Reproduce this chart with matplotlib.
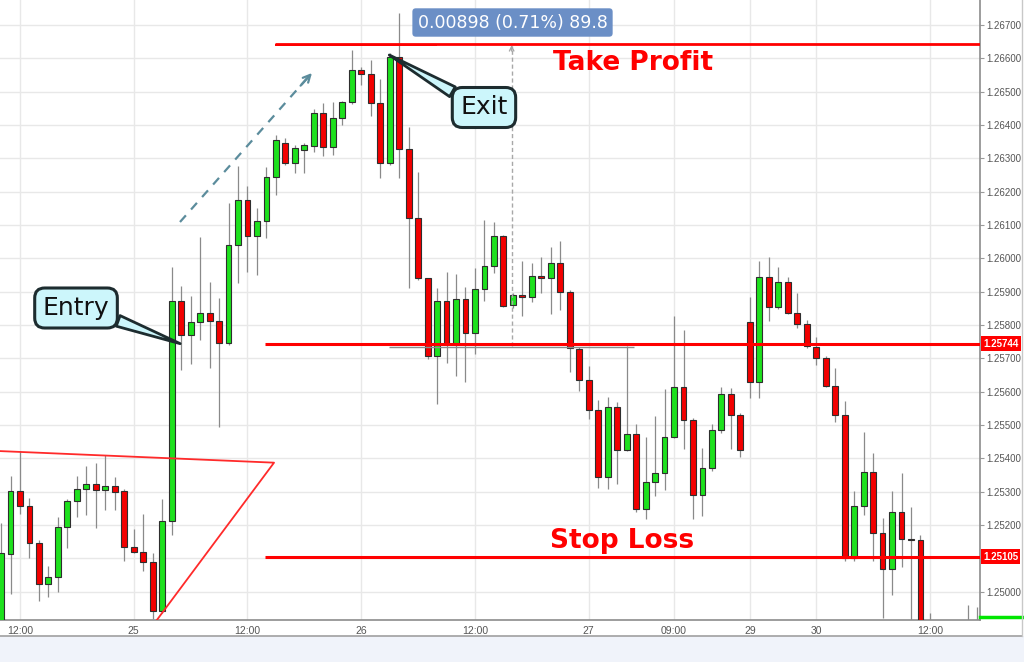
import numpy as np
import matplotlib
matplotlib.use('Agg')
import matplotlib.pyplot as plt
from matplotlib.transforms import blended_transform_factory
from matplotlib.patches import Rectangle
from matplotlib.lines import Line2D

# hourly bars, bar 0 = first "12:00" label
bars = np.arange(-2, 102)

opens = [1.24879, 1.25113, 1.25302, 1.25257, 1.25146, 1.25023, 1.25044, 1.25194, 1.25272, 1.25308,
         1.25323, 1.25305, 1.25317, 1.25302, 1.25134, 1.25119, 1.25089, 1.24942, 1.25212, 1.25872,
         1.25770, 1.25809, 1.25836, 1.25812, 1.25746, 1.26040, 1.26175, 1.26067, 1.26112, 1.26244,
         1.26346, 1.26286, 1.26325, 1.26337, 1.26436, 1.26334, 1.26421, 1.26469, 1.26565, 1.26553,
         1.26466, 1.26286, 1.26604, 1.26328, 1.26121, 1.25941, 1.25707, 1.25872, 1.25743, 1.25878,
         1.25776, 1.25908, 1.25977, 1.26067, 1.25860, 1.25890, 1.25884, 1.25947, 1.25941, 1.25986,
         1.25899, 1.25728, 1.25635, 1.25545, 1.25344, 1.25554, 1.25425, 1.25473, 1.25248, 1.25329,
         1.25356, 1.25464, 1.25614, 1.25515, 1.25290, 1.25371, 1.25485, 1.25593, 1.25530, 1.25809,
         1.25629, 1.25944, 1.25854, 1.25929, 1.25836, 1.25803, 1.25734, 1.25701, 1.25617, 1.25530,
         1.25101, 1.25257, 1.25359, 1.25176, 1.25068, 1.25239, 1.25158, 1.25155, 1.24830, 1.24860,
         1.24820, 1.24800, 1.24850, 1.24880]
highs = [1.25206, 1.25347, 1.25422, 1.25281, 1.25155, 1.25077, 1.25224, 1.25278, 1.25347, 1.25377,
         1.25386, 1.25410, 1.25344, 1.25308, 1.25188, 1.25233, 1.25116, 1.25278, 1.25974, 1.25917,
         1.25887, 1.26064, 1.25929, 1.25881, 1.26166, 1.26277, 1.26217, 1.26151, 1.26274, 1.26370,
         1.26361, 1.26340, 1.26346, 1.26448, 1.26466, 1.26469, 1.26472, 1.26625, 1.26574, 1.26595,
         1.26538, 1.26616, 1.26736, 1.26394, 1.26259, 1.25941, 1.25911, 1.25959, 1.25953, 1.25914,
         1.25971, 1.26115, 1.26109, 1.26070, 1.25896, 1.25992, 1.25986, 1.26004, 1.26034, 1.26052,
         1.25905, 1.25734, 1.25677, 1.25575, 1.25584, 1.25569, 1.25737, 1.25503, 1.25464, 1.25527,
         1.25608, 1.25827, 1.25785, 1.25521, 1.25431, 1.25503, 1.25614, 1.25611, 1.25536, 1.25884,
         1.25992, 1.26004, 1.25974, 1.25944, 1.25896, 1.25815, 1.25764, 1.25707, 1.25671, 1.25572,
         1.25302, 1.25479, 1.25416, 1.25221, 1.25302, 1.25356, 1.25254, 1.25170, 1.24936, 1.24900,
         1.24880, 1.24890, 1.24960, 1.24954]
lows = [1.24855, 1.24993, 1.25233, 1.25101, 1.24972, 1.24984, 1.24999, 1.25131, 1.25224, 1.25230,
        1.25191, 1.25245, 1.25245, 1.25092, 1.25116, 1.25062, 1.24918, 1.24936, 1.25170, 1.25665,
        1.25683, 1.25755, 1.25671, 1.25494, 1.25740, 1.25926, 1.25959, 1.25950, 1.26061, 1.26190,
        1.26280, 1.26256, 1.26256, 1.26319, 1.26307, 1.26310, 1.26400, 1.26463, 1.26520, 1.26427,
        1.26241, 1.26280, 1.26241, 1.25911, 1.25935, 1.25698, 1.25563, 1.25686, 1.25647, 1.25629,
        1.25713, 1.25872, 1.25956, 1.25854, 1.25851, 1.25827, 1.25869, 1.25896, 1.25833, 1.25845,
        1.25659, 1.25602, 1.25518, 1.25311, 1.25308, 1.25323, 1.25422, 1.25239, 1.25218, 1.25287,
        1.25305, 1.25461, 1.25428, 1.25218, 1.25227, 1.25362, 1.25476, 1.25428, 1.25404, 1.25581,
        1.25581, 1.25812, 1.25848, 1.25833, 1.25791, 1.25731, 1.25680, 1.25614, 1.25509, 1.25092,
        1.25092, 1.25230, 1.25092, 1.24921, 1.24990, 1.25074, 1.24900, 1.24800, 1.24790, 1.24780,
        1.24760, 1.24770, 1.24800, 1.24840]
closes = [1.25116, 1.25302, 1.25257, 1.25146, 1.25023, 1.25044, 1.25194, 1.25272, 1.25308, 1.25323,
          1.25305, 1.25317, 1.25299, 1.25134, 1.25119, 1.25089, 1.24942, 1.25212, 1.25872, 1.25770,
          1.25809, 1.25836, 1.25812, 1.25746, 1.26040, 1.26175, 1.26067, 1.26112, 1.26244, 1.26355,
          1.26286, 1.26331, 1.26340, 1.26436, 1.26334, 1.26421, 1.26469, 1.26565, 1.26553, 1.26466,
          1.26286, 1.26604, 1.26328, 1.26121, 1.25941, 1.25707, 1.25872, 1.25743, 1.25878, 1.25776,
          1.25908, 1.25977, 1.26067, 1.25857, 1.25890, 1.25884, 1.25947, 1.25941, 1.25986, 1.25899,
          1.25731, 1.25635, 1.25545, 1.25344, 1.25554, 1.25425, 1.25473, 1.25248, 1.25329, 1.25356,
          1.25464, 1.25614, 1.25515, 1.25290, 1.25371, 1.25485, 1.25593, 1.25530, 1.25425, 1.25629,
          1.25944, 1.25854, 1.25929, 1.25836, 1.25803, 1.25737, 1.25701, 1.25617, 1.25530, 1.25101,
          1.25257, 1.25359, 1.25176, 1.25068, 1.25239, 1.25158, 1.25155, 1.24830, 1.24860, 1.24820,
          1.24800, 1.24850, 1.24880, 1.24905]

time_ticks = [0, 12, 24, 36, 48, 60, 69, 77, 84, 96]
time_labels = ['12:00', '25', '12:00', '26', '12:00', '27', '09:00', '29', '30', '12:00']
price_ticks = np.round(np.arange(1.250, 1.2675, 0.001), 3)

entry_price = 1.25744
tp_price = 1.26642
sl_price = 1.25105
last_price = 1.24924
measure_text = '0.00898 (0.71%) 89.8'

# triangle drawn on the left (bar, price)
tri_x = [-4, 26.8, 12.87]
tri_y = [1.25424, 1.25387, 1.24855]

W, H = 1024, 662
fig = plt.figure(figsize=(W / 100, H / 100), dpi=100)
fig.patch.set_facecolor('white')
ax = fig.add_axes([0, (H - 620) / H, 980 / W, 620 / H])

# candles
o = np.array(opens)
c = np.array(closes)
colors = np.where(c >= o, '#1ee11e', '#f20000')
ax.vlines(bars, lows, highs, color='#8a8a8a', lw=0.9, zorder=2)
ax.bar(bars, np.maximum(np.abs(c - o), 0.000025), bottom=np.minimum(o, c), width=0.62,
       color=colors, edgecolor='#2e2e2e', linewidth=0.8, zorder=3)

# levels
ax.hlines(entry_price, 25.85, 110, color='#ff0000', lw=2.2, zorder=6)
ax.hlines(sl_price, 25.85, 110, color='#ff0000', lw=2.2, zorder=6)
ax.hlines(tp_price, 26.9, 110, color='#ff0000', lw=2.0, zorder=6)
ax.hlines(tp_price - 0.00003, 26.9, 44, color='#ff0000', lw=1.4, zorder=6)
ax.text(64.67, 1.26586, 'Take Profit', color='#ff0000', fontsize=19, fontweight='bold',
        ha='center', va='center', zorder=7)
ax.text(63.5, 1.25152, 'Stop Loss', color='#ff0000', fontsize=19, fontweight='bold',
        ha='center', va='center', zorder=7)

# triangle
ax.plot(tri_x, tri_y, color='#ff2a2a', lw=1.3, zorder=4)

# dashed trend arrow
ax.plot([16.88, 30.5], [1.26109, 1.26547], color='#5b8c9c', lw=1.6, ls=(0, (4, 3.5)), zorder=4)
ax.annotate('', xy=(30.8, 1.26556), xytext=(29.6, 1.26518),
            arrowprops=dict(arrowstyle='->', color='#5b8c9c', lw=1.6, mutation_scale=13,
                            shrinkA=0, shrinkB=0), zorder=4)

# measuring tool
ax.plot([51.87, 51.87], [entry_price - 0.00008, tp_price - 0.00005], color='#a8a8a8', lw=1,
        ls=(0, (3, 2)), zorder=5)
ax.annotate('', xy=(51.87, tp_price - 0.00002), xytext=(51.87, tp_price - 0.0002),
            arrowprops=dict(arrowstyle='->', color='#a8a8a8', lw=1, mutation_scale=8,
                            shrinkA=0, shrinkB=0), zorder=5)
ax.hlines(entry_price - 0.00009, 38.96, 64.78, color='#8c8c8c', lw=1, zorder=5)
ax.text(51.96, 1.267075, measure_text, color='white', fontsize=12.5, ha='center', va='center',
        bbox=dict(boxstyle='round,pad=0.3,rounding_size=0.2', fc='#6b8fc6', ec='none'), zorder=8)

# callouts
box = dict(boxstyle='round,pad=0.32,rounding_size=0.4', fc='#ccf6fb', ec='#1d2c2f', lw=2.2)
ax.annotate('Entry', xy=(16.9, entry_price), xytext=(5.91, 1.25851), fontsize=18,
            ha='center', va='center', color='#111111', bbox=box, zorder=9,
            arrowprops=dict(arrowstyle='wedge,tail_width=0.45', fc='#ccf6fb', ec='#1d2c2f',
                            lw=2, relpos=(0.9, 0.2), shrinkA=0, shrinkB=0))
ax.annotate('Exit', xy=(38.96, 1.26610), xytext=(48.95, 1.264525), fontsize=18,
            ha='center', va='center', color='#111111', bbox=box, zorder=9,
            arrowprops=dict(arrowstyle='wedge,tail_width=0.45', fc='#ccf6fb', ec='#1d2c2f',
                            lw=2, relpos=(0.1, 0.85), shrinkA=0, shrinkB=0))

# axes
ax.set_xlim(-2.11, 101.28)
ax.set_ylim(1.24915, 1.26775)
ax.set_axisbelow(True)
ax.grid(True, color='#e8e8e8', lw=1)
ax.yaxis.tick_right()
ax.set_yticks(price_ticks)
ax.set_yticklabels(['' if abs(t - 1.251) < 1e-9 else f'{t:.5f}' for t in price_ticks],
                   family='Liberation Sans')
ax.set_xticks(time_ticks)
ax.set_xticklabels(time_labels, family='Liberation Sans')
ax.tick_params(axis='y', length=3, color='#9a9a9a', labelsize=7, labelcolor='#555555', pad=1.5)
ax.tick_params(axis='x', length=0, labelsize=7.5, labelcolor='#555555', pad=4)
for s in ('top', 'left'):
    ax.spines[s].set_visible(False)
for s in ('right', 'bottom'):
    ax.spines[s].set_color('#8c8c8c')
    ax.spines[s].set_linewidth(1.2)

# price markers on the axis
trans = blended_transform_factory(ax.transAxes, ax.transData)
for price in (entry_price, sl_price):
    ax.text(1.003, price, f'{price:.5f}', transform=trans, ha='left', va='center', color='white',
            fontsize=7, fontweight='bold', family='Liberation Sans', clip_on=False, zorder=10,
            bbox=dict(boxstyle='square,pad=0.25', fc='#ff0000', ec='none'))
ax.plot([1.0, 1.05], [last_price, last_price], transform=trans, color='#00e600', lw=2.5,
        clip_on=False, zorder=10)

# frame and bottom band
fig.patches.append(Rectangle((0, 0), 1, 26 / H, transform=fig.transFigure, fc='#f0f3fa',
                             ec='none'))
fig.add_artist(Line2D([0, 1022 / W], [26 / H, 26 / H], color='#a0a0a0', lw=1.2))
fig.add_artist(Line2D([1022 / W, 1022 / W], [26 / H, 1], color='#c8c8c8', lw=1))

fig.savefig('out.png', dpi=100)
